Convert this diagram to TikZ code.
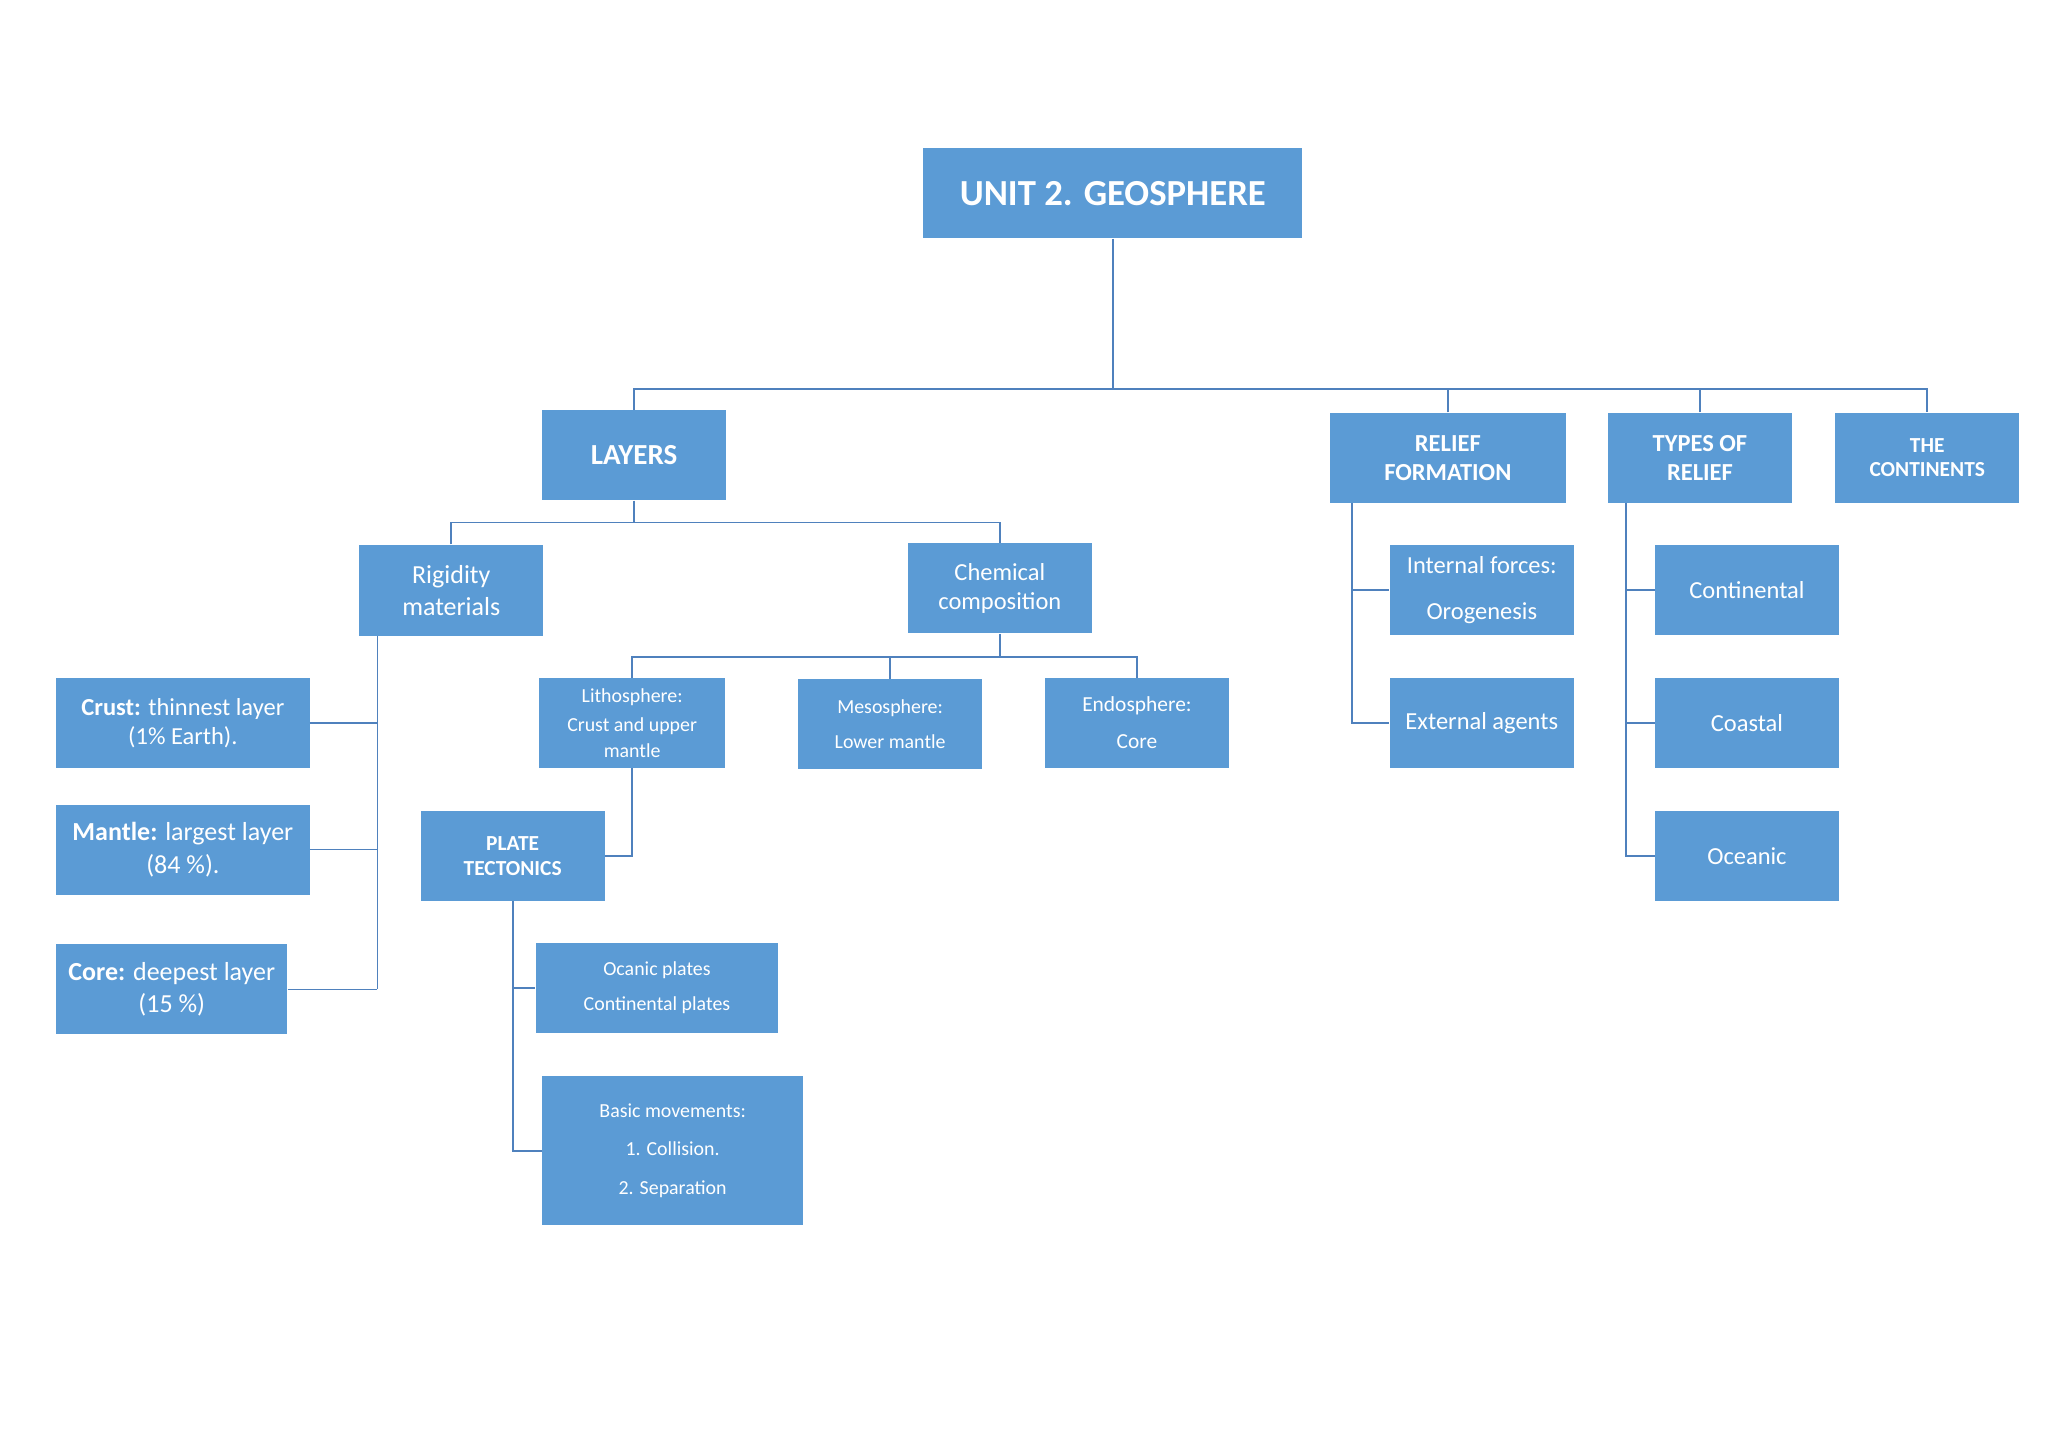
\documentclass[tikz,border=0pt]{standalone}
\usepackage{fontspec}
\setmainfont{Carlito}
\definecolor{boxc}{HTML}{5B9BD5}
\definecolor{linec}{HTML}{4F81BD}
\begin{document}
\begin{tikzpicture}[x=0.3mm,y=-0.3mm,
  bx/.style 2 args={draw=none,fill=boxc,text=white,align=center,inner sep=0pt,
     minimum width=#1*0.3mm,minimum height=#2*0.3mm},
  ln/.style={draw=linec,line width=1.1pt},
  fT/.style={font=\fontsize{24}{28}\selectfont\bfseries},
  fL/.style={font=\fontsize{19}{22}\selectfont\bfseries},
  fR/.style={font=\fontsize{16}{19}\selectfont\bfseries},
  fC/.style={font=\fontsize{14}{16}\selectfont\bfseries},
  fM/.style={font=\fontsize{17}{21}\selectfont},
  fN/.style={font=\fontsize{16}{19}\selectfont},
  fS/.style={font=\fontsize{13}{23}\selectfont}]
\useasboundingbox[fill=white] (0,0) rectangle (1568,1109);
\node[bx={290}{69},fT] (unit) at (852,148) {UNIT 2. GEOSPHERE};
\node[bx={141}{69},fL] (layers) at (485.5,348.5) {LAYERS};
\node[bx={181}{69},fR] (relief) at (1108.5,350.5) {RELIEF\\FORMATION};
\node[bx={141}{69},fR] (types) at (1301.5,350.5) {TYPES OF\\RELIEF};
\node[bx={141}{69},fC] (cont) at (1475.5,350.5) {THE\\CONTINENTS};
\node[bx={141}{70},fM] (rig) at (345.5,452) {Rigidity\\materials};
\node[bx={141}{69},fN] (chem) at (765.5,450.5) {Chemical\\composition};
\node[bx={194}{69},fN] (crust) at (140,553.5) {\textbf{Crust:} thinnest layer\\(1\% Earth).};
\node[bx={194}{69},fM] (mantle) at (140,650.5) {\textbf{Mantle:} largest layer\\(84 \%).};
\node[bx={177}{69},fM] (core) at (131.5,757.5) {\textbf{Core:} deepest layer\\(15 \%)};
\node[bx={142}{69},font=\fontsize{13}{17}\selectfont] (litho) at (484,553.5) {Lithosphere:\\[2pt]Crust and upper\\mantle};
\node[bx={141}{69},fS] (meso) at (681.5,554.5) {Mesosphere:\\Lower mantle};
\node[bx={141}{69},font=\fontsize{14}{24}\selectfont] (endo) at (870.5,553.5) {Endosphere:\\Core};
\node[bx={141}{69},fC] (plate) at (392.5,655.5) {PLATE\\TECTONICS};
\node[bx={186}{69},fS] (ocan) at (503,756.5) {Ocanic plates\\Continental plates};
\node[bx={200}{114},font=\fontsize{13}{25}\selectfont] (basic) at (515,881) {Basic movements:\\1. Collision.\\2. Separation};
\node[bx={141}{69},font=\fontsize{16}{30}\selectfont] (intf) at (1134.5,451.5) {Internal forces:\\Orogenesis};
\node[bx={141}{69},fN] (ext) at (1134.5,553.5) {External agents};
\node[bx={141}{69},fN] (conti) at (1337.5,451.5) {Continental};
\node[bx={141}{69},fN] (coast) at (1337.5,553.5) {Coastal};
\node[bx={141}{69},fN] (ocea) at (1337.5,655.5) {Oceanic};
% connectors
\draw[ln] (unit.south) -- (852,298);
\draw[ln] (layers.north) |- (852,298) -| (cont.north);
\draw[ln] (relief.north) -- (1108.5,298);
\draw[ln] (types.north) -- (1301.5,298);
\draw[ln] (layers.south) -- (485.5,400);
\draw[ln] (rig.north) |- (485.5,400) -| (chem.north);
\draw[ln] (chem.south) -- (765.5,503);
\draw[ln] (litho.north) |- (765.5,503) -| (endo.north);
\draw[ln] (meso.north) -- (681.5,503);
\draw[ln] (289,487) -- (289,757.5);
\draw[ln] (crust.east) -- (289,553.5);
\draw[ln] (mantle.east) -- (289,650.5);
\draw[ln] (core.east) -- (289,757.5);
\draw[ln] (litho.south) |- (plate.east);
\draw[ln] (392.5,690) |- (basic.west);
\draw[ln] (392.5,756.5) -- (ocan.west);
\draw[ln] (1035,385) |- (ext.west);
\draw[ln] (1035,451.5) -- (intf.west);
\draw[ln] (1245,385) |- (ocea.west);
\draw[ln] (1245,451.5) -- (conti.west);
\draw[ln] (1245,553.5) -- (coast.west);
\end{tikzpicture}
\end{document}
